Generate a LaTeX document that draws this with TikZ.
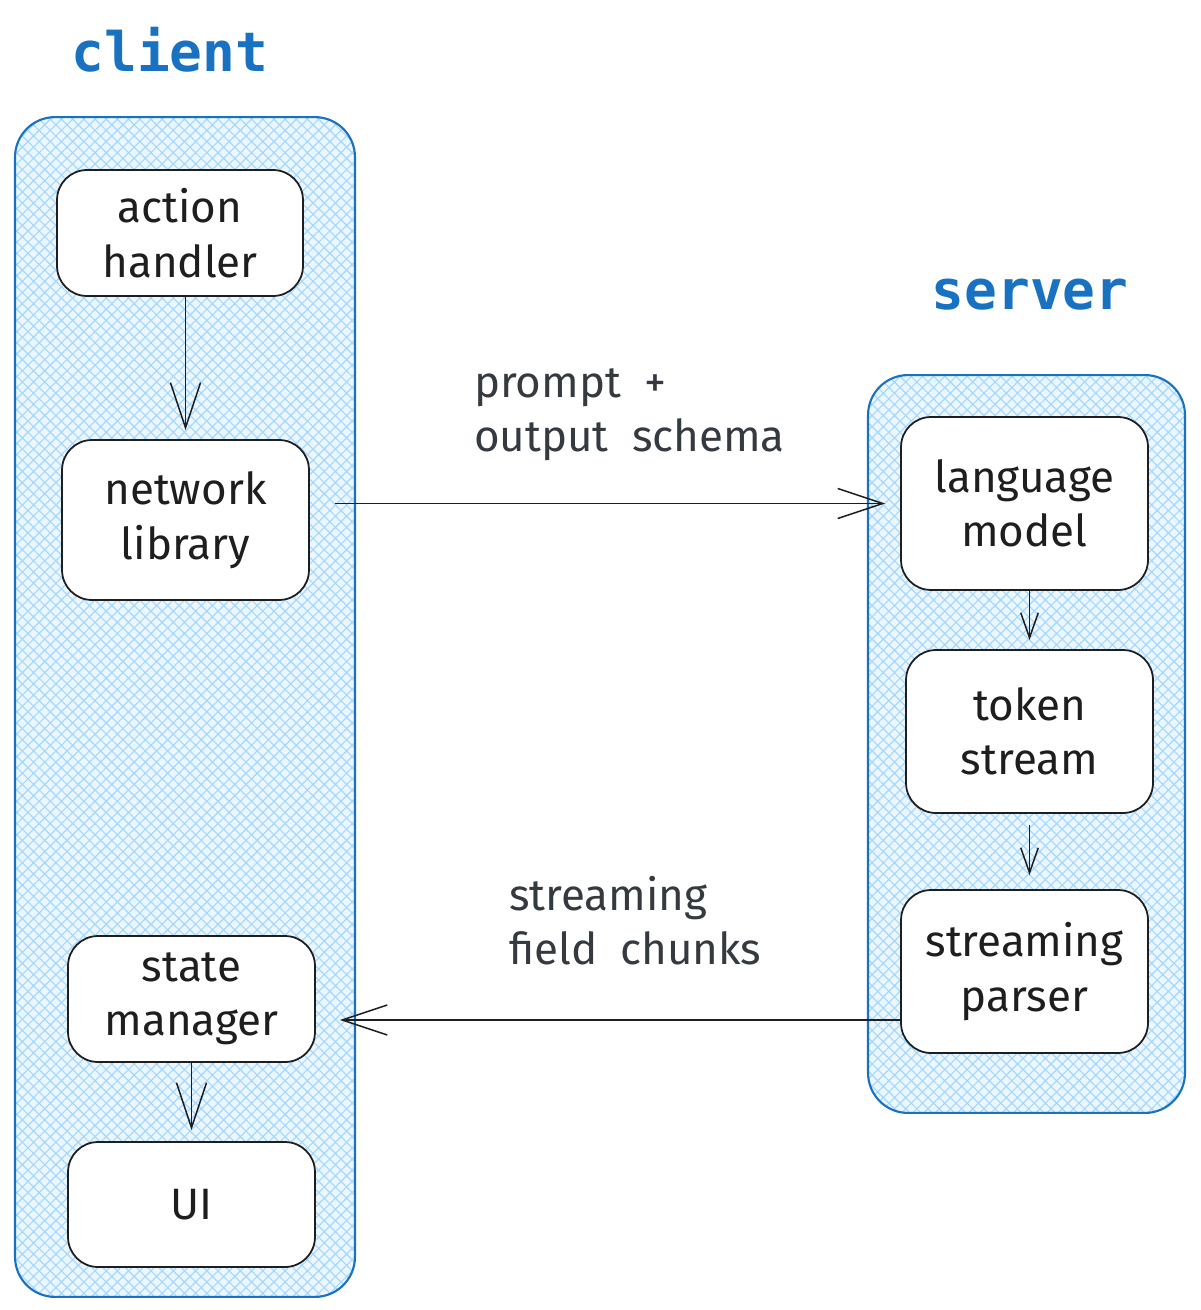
\documentclass[tikz,border=0pt]{standalone}
\usepackage{fontspec}
\setmainfont{Fira Sans}
\newfontfamily\titlefont{DejaVu Sans Mono}
\usetikzlibrary{arrows.meta,patterns.meta}

\definecolor{groupblue}{HTML}{1971C2}
\definecolor{hatchblue}{HTML}{A5D8FF}
\definecolor{inkgray}{HTML}{1E1E1E}
\definecolor{labelgray}{HTML}{343A40}

\begin{document}
\begin{tikzpicture}[x=0.02cm,y=-0.02cm,>={Straight Barb[length=9mm,width=6mm]},
  group box/.style={draw=groupblue,line width=1.2pt,rounded corners=0.8cm,outer sep=0pt,preaction={fill=hatchblue!22},pattern={Hatch[angle=45,distance=4.5pt,line width=0.65pt]},pattern color=hatchblue},
  part box/.style={draw=inkgray,line width=1pt,fill=white,rounded corners=0.6cm,outer sep=0pt,align=center,text=inkgray,font=\fontsize{25}{31}\selectfont},
  flow label/.style={anchor=north west,align=left,text=labelgray,font=\fontsize{25}{31}\selectfont},
  group title/.style={text=groupblue,font=\titlefont\bfseries\fontsize{31}{36}\selectfont},
  flow/.style={draw=inkgray,line width=0.85pt},
  small tip/.style={-{Straight Barb[length=5mm,width=3.5mm]}}]

    \useasboundingbox (0,0) rectangle (1200,1310);

    % the two groups
    \node[group title] (clienttitle) at (170,50) {client};
    \node[group title] (servertitle) at (1030,295) {server};
    \node[group box, minimum width=6.8cm, minimum height=23.6cm] (client) at (185,707) {};
    \node[group box, minimum width=6.34cm, minimum height=14.76cm] (server) at (1026.5,744) {};

    % client side
    \node[part box, minimum width=4.92cm, minimum height=2.52cm] (action) at (180,233) {action\\handler};
    \node[part box, minimum width=4.94cm, minimum height=3.2cm] (network) at (185.5,520) {network\\library};
    \node[part box, minimum width=4.94cm, minimum height=2.52cm] (state) at (191.5,999) {state\\manager};
    \node[part box, minimum width=4.94cm, minimum height=2.5cm] (ui) at (191.5,1204.5) {UI};

    % server side
    \node[part box, minimum width=4.94cm, minimum height=3.46cm] (language) at (1024.5,503.5) {language\\model};
    \node[part box, minimum width=4.94cm, minimum height=3.26cm] (token) at (1029.5,731.5) {token\\stream};
    \node[part box, minimum width=4.94cm, minimum height=3.26cm] (parser) at (1024.5,971.5) {streaming\\parser};

    % labels on the long arrows
    \node[flow label] (request) at (468,362) {prompt~ +\\output~ schema};
    \node[flow label] (reply) at (503,870) {streaming\\field~ chunks};

    \draw[flow,->,shorten >=0.2cm] (action.south -| network.north) -- (network.north);
    \draw[flow,->,shorten <=0.52cm,shorten >=0.32cm] (network.east |- language.west) -- (language.west);
    \draw[flow,small tip,shorten >=0.2cm] (language.south -| token.north) -- (token.north);
    \draw[flow,small tip,shorten <=0.24cm,shorten >=0.3cm] (token.south) -- (token.south |- parser.north);
    \draw[flow,->,shorten >=0.5cm] ([yshift=-0.97cm]parser.west) -- ([yshift=-0.97cm]parser.west -| state.east);
    \draw[flow,->,shorten >=0.24cm] (state) -- (ui);

\end{tikzpicture}
\end{document}
